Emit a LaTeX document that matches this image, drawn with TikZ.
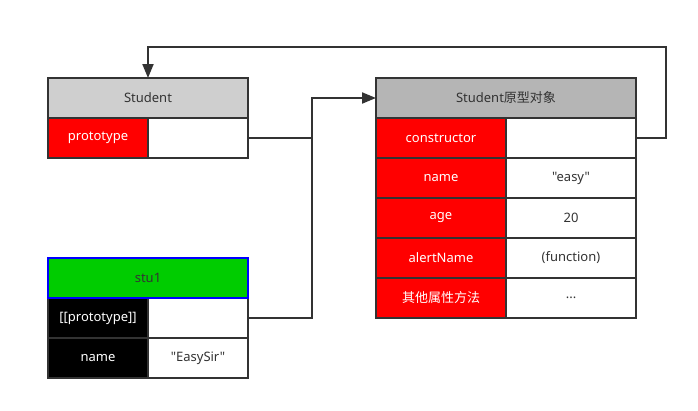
\documentclass[tikz,border=0pt]{standalone}
\usepackage{fontspec}
\newfontfamily\plain{Noto Sans}
\newfontfamily\cjk{Noto Sans CJK SC}
\usetikzlibrary{arrows.meta}

\definecolor{linegray}{HTML}{333333}
\definecolor{keyred}{HTML}{FF0000}
\definecolor{headgray}{HTML}{CFCFCF}
\definecolor{protogray}{HTML}{B5B5B5}
\definecolor{objgreen}{HTML}{00CC00}

\tikzset{
	cell/.style={draw=linegray, line width=2pt, minimum height=40pt, inner sep=0pt, outer sep=0pt, font=\plain\fontsize{13}{15}\selectfont, text=linegray},
	keycell/.style={cell, fill=keyred, text=white},
	blackcell/.style={cell, fill=black, text=white},
	valcell/.style={cell, fill=white},
	link/.style={draw=linegray, line width=2pt, -{Triangle[length=14pt,width=11pt]}}
}

\begin{document}
\begin{tikzpicture}[x=1pt,y=-1pt]
	\useasboundingbox (0,0) rectangle (698,410);
	% Student
	\node[cell, fill=headgray, minimum width=200pt] (Student) at (148,98) {Student};
	\node[keycell, minimum width=100pt, anchor=north west] (SProto) at (Student.south west) {prototype};
	\node[valcell, minimum width=100pt, anchor=north east] (SProtoV) at (Student.south east) {};
	% Student原型对象
	\node[cell, fill=protogray, minimum width=260pt] (Proto) at (506,98) {Student{\cjk 原型对象}};
	\node[keycell, minimum width=130pt, anchor=north west] (PCtor) at (Proto.south west) {constructor};
	\node[valcell, minimum width=130pt, anchor=north east] (PCtorV) at (Proto.south east) {};
	\node[keycell, minimum width=130pt, anchor=north] (PName) at (PCtor.south) {name};
	\node[valcell, minimum width=130pt, anchor=north] (PNameV) at (PCtorV.south) {"easy"};
	\node[keycell, minimum width=130pt, anchor=north] (PAge) at (PName.south) {age};
	\node[valcell, minimum width=130pt, anchor=north] (PAgeV) at (PNameV.south) {20};
	\node[keycell, minimum width=130pt, anchor=north] (PAlert) at (PAge.south) {alertName};
	\node[valcell, minimum width=130pt, anchor=north] (PAlertV) at (PAgeV.south) {(function)};
	\node[keycell, minimum width=130pt, anchor=north] (POther) at (PAlert.south) {\cjk 其他属性方法};
	\node[valcell, minimum width=130pt, anchor=north] (POtherV) at (PAlertV.south) {\textbf{...}};
	% stu1
	\node[blackcell, minimum width=100pt] (SLink) at (98,318) {[[prototype]]};
	\node[valcell, minimum width=100pt, anchor=west] (SLinkV) at (SLink.east) {};
	\node[blackcell, minimum width=100pt, anchor=north] (SName) at (SLink.south) {name};
	\node[valcell, minimum width=100pt, anchor=north] (SNameV) at (SLinkV.south) {"EasySir"};
	\node[cell, draw=blue, fill=objgreen, minimum width=200pt, anchor=south west] (stu1) at (SLink.north west) {stu1};

	\coordinate (join) at (312,98);
	\coordinate (loop) at (666,47);
	\draw[link] (SLinkV.east) -| (join) -- (Proto.west);
	\draw[draw=linegray, line width=2pt] (SProtoV.east) -- (SProtoV.east -| join);
	\draw[link] (PCtorV.east) -| (loop) -| (Student.north);

\end{tikzpicture}
\end{document}
